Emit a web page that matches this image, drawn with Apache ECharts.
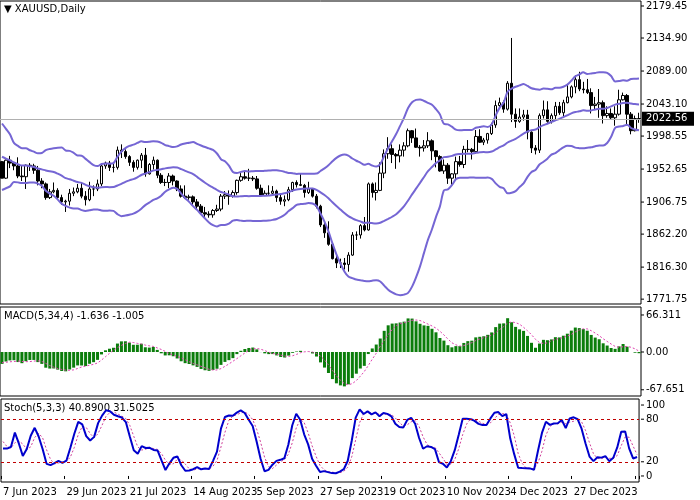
<!DOCTYPE html>
<html>
<head>
<meta charset="utf-8">
<script src="https://cdn.jsdelivr.net/npm/echarts@6/dist/echarts.min.js"></script>
<style>html,body{margin:0;padding:0;background:#fff}#main{width:700px;height:500px}</style>
</head>
<body>
<div id="main"></div>
<script>
// daily bars [open, high, low, close], 1 May 2023 .. 19 Jan 2024 (first 27 rows are warm-up for indicators)
var bars = [
[1990,1993,1976,1983],[1983,2019,1978,2016],[2016,2041,2004,2039],[2039,2081,2033,2050],[2050,2063,2004,2017],
[2017,2026,2012,2021],[2021,2036,2016,2035],[2035,2048,2019,2030],[2030,2040,2010,2015],[2015,2023,2005,2011],
[2011,2022,2006,2017],[2017,2020,1987,1989],[1989,1993,1975,1982],[1982,1984,1952,1958],[1958,1984,1954,1978],
[1978,1980,1963,1971],[1971,1985,1956,1975],[1975,1985,1956,1958],[1958,1962,1937,1941],[1941,1956,1939,1946],
[1946,1950,1936,1943],[1943,1963,1932,1959],[1959,1975,1954,1963],[1963,1983,1953,1978],[1978,1983,1947,1948],
[1948,1965,1939,1961],[1961,1969,1955,1963],
// 7 Jun
[1963,1964,1940,1940],[1940,1966,1939,1965],[1965,1971,1954,1961],[1961,1962,1951,1957],[1957,1969,1940,1943],
[1943,1958,1936,1942],[1942,1959,1925,1958],[1958,1961,1950,1957],[1957,1960,1946,1951],[1951,1957,1930,1936],
[1936,1940,1926,1932],[1932,1934,1910,1913],[1913,1925,1911,1921],[1921,1934,1919,1923],[1923,1926,1910,1913],
[1913,1917,1903,1907],[1907,1910,1893,1908],[1908,1925,1902,1919],
// Jul
[1919,1927,1915,1921],[1921,1932,1919,1926],[1926,1934,1912,1915],[1915,1922,1902,1910],[1910,1935,1908,1925],
[1925,1930,1915,1925],[1925,1938,1922,1932],[1932,1960,1929,1957],[1957,1963,1953,1961],[1961,1964,1950,1955],
[1955,1960,1948,1955],[1955,1984,1952,1979],[1979,1987,1968,1977],[1977,1980,1967,1970],[1970,1972,1957,1962],
[1962,1965,1949,1955],[1955,1966,1952,1965],[1965,1975,1954,1972],[1972,1982,1942,1946],[1946,1961,1945,1959],
[1959,1970,1952,1965],
// Aug
[1965,1966,1940,1944],[1944,1947,1932,1934],[1934,1939,1929,1934],[1934,1947,1926,1943],[1943,1945,1930,1936],
[1936,1937,1922,1925],[1925,1930,1913,1915],[1915,1930,1911,1913],[1913,1917,1910,1914],[1914,1916,1903,1907],
[1907,1911,1896,1901],[1901,1904,1891,1892],[1892,1900,1885,1890],[1890,1894,1885,1889],[1889,1897,1885,1895],
[1895,1903,1893,1897],[1897,1918,1894,1915],[1915,1922,1911,1917],[1917,1923,1903,1915],[1915,1923,1913,1920],
[1920,1938,1917,1937],[1937,1947,1935,1942],[1942,1949,1938,1940],
// Sep
[1940,1953,1936,1940],[1940,1943,1936,1939],[1939,1943,1924,1926],[1926,1931,1915,1916],[1916,1923,1915,1919],
[1919,1930,1916,1919],[1919,1929,1917,1922],[1922,1924,1907,1913],[1913,1917,1903,1908],[1908,1916,1901,1910],
[1910,1928,1908,1924],[1924,1935,1921,1934],[1934,1937,1927,1931],[1931,1947,1929,1930],[1930,1932,1913,1920],
[1920,1935,1918,1925],[1925,1926,1913,1915],[1915,1918,1898,1901],[1901,1903,1872,1875],[1875,1880,1857,1864],
[1864,1880,1846,1848],
// Oct
[1848,1851,1827,1828],[1828,1834,1815,1822],[1822,1828,1815,1822],[1822,1829,1813,1820],[1820,1837,1810,1833],
[1833,1865,1832,1861],[1861,1866,1854,1861],[1861,1876,1856,1874],[1874,1886,1866,1868],[1868,1934,1867,1932],
[1932,1934,1913,1920],[1920,1934,1909,1923],[1923,1962,1922,1947],[1947,1980,1940,1974],[1974,1997,1967,1981],
[1981,1987,1961,1973],[1973,1975,1953,1971],[1971,1987,1962,1979],[1979,1990,1970,1985],[1985,2009,1983,2006],
[2006,2007,1989,1996],[1996,2009,1982,1983],
// Nov
[1983,1986,1970,1982],[1982,1993,1977,1985],[1985,2004,1982,1992],[1992,1994,1965,1978],[1978,1979,1955,1970],
[1970,1972,1949,1950],[1950,1966,1946,1958],[1958,1961,1932,1940],[1940,1947,1931,1946],[1946,1970,1938,1963],
[1963,1971,1956,1959],[1959,1985,1954,1980],[1980,1993,1976,1980],[1980,1982,1966,1977],[1977,2007,1974,1998],
[1998,2008,1989,1990],[1990,1996,1986,1993],[1993,2003,1988,2002],[2002,2017,2000,2014],[2014,2048,2010,2041],
[2041,2052,2037,2045],[2045,2048,2031,2036],
// Dec
[2036,2075,2034,2072],[2072,2135,2018,2029],[2029,2037,2010,2019],[2019,2037,2017,2025],[2025,2035,2020,2028],
[2028,2035,1994,2004],[2004,2005,1975,1982],[1982,1986,1973,1979],[1979,2030,1975,2027],[2027,2048,2023,2035],
[2035,2047,2017,2019],[2019,2030,2016,2027],[2027,2046,2022,2040],[2040,2046,2028,2031],[2031,2049,2025,2045],
[2045,2071,2044,2053],[2053,2069,2051,2067],[2067,2083,2058,2077],[2077,2088,2061,2064],[2064,2074,2058,2063],
// Jan
[2063,2078,2057,2059],[2059,2065,2030,2041],[2041,2053,2035,2043],[2043,2064,2024,2045],[2045,2048,2016,2027],
[2027,2040,2024,2030],[2030,2037,2021,2024],[2024,2040,2013,2029],[2029,2063,2027,2049],[2049,2059,2048,2055],
[2055,2057,2015,2029],[2029,2032,2001,2006],[2006,2027,2005,2023],[2023,2031,2017,2022.56]
];
var warmup = 27;
var holidays = ['2023-12-25', '2024-01-01'];
var priceTicks = [2179.45, 2134.90, 2089.00, 2043.10, 1998.55, 1952.65, 1906.75, 1862.20, 1816.30, 1771.75];
var macdTicks = [66.311, 0, -67.651];
var stochTicks = [100, 80, 20, 0];
var lastPrice = 2022.56;

var months = ['Jan','Feb','Mar','Apr','May','Jun','Jul','Aug','Sep','Oct','Nov','Dec'];
var dates = [];
var d = new Date(Date.UTC(2023, 4, 1));
while (dates.length < bars.length) {
  var wd = d.getUTCDay();
  var iso = d.toISOString().slice(0, 10);
  if (wd !== 0 && wd !== 6 && holidays.indexOf(iso) < 0) {
    dates.push(d.getUTCDate() + ' ' + months[d.getUTCMonth()] + ' ' + d.getUTCFullYear());
  }
  d = new Date(d.getTime() + 86400000);
}

var closes = bars.map(function (b) { return b[3]; });
var highs = bars.map(function (b) { return b[1]; });
var lows = bars.map(function (b) { return b[2]; });

// Bollinger bands (20, 2)
var bbMid = [], bbUp = [], bbLo = [];
for (var i = 0; i < closes.length; i++) {
  if (i < 19) { bbMid.push(null); bbUp.push(null); bbLo.push(null); continue; }
  var s = 0, q = 0;
  for (var j = i - 19; j <= i; j++) s += closes[j];
  var m = s / 20;
  for (var j = i - 19; j <= i; j++) q += (closes[j] - m) * (closes[j] - m);
  var sd = Math.sqrt(q / 20);
  bbMid.push(m); bbUp.push(m + 2 * sd); bbLo.push(m - 2 * sd);
}

// MACD (5, 34, 4), signal as SMA
function ema(arr, n) {
  var k = 2 / (n + 1), out = [], v = arr[0];
  arr.forEach(function (x) { v = x * k + v * (1 - k); out.push(v); });
  return out;
}
var e5 = ema(closes, 5), e34 = ema(closes, 34);
var macd = closes.map(function (c, i) { return e5[i] - e34[i]; });
var macdSig = macd.map(function (v, i) {
  if (i < 3) return null;
  return (macd[i] + macd[i - 1] + macd[i - 2] + macd[i - 3]) / 4;
});

// Stochastic (5, 3, 3)
var stK = [], stD = [];
for (var i = 0; i < closes.length; i++) {
  if (i < 6) { stK.push(null); stD.push(null); continue; }
  var num = 0, den = 0;
  for (var j = i - 2; j <= i; j++) {
    var hh = Math.max.apply(null, highs.slice(j - 4, j + 1));
    var ll = Math.min.apply(null, lows.slice(j - 4, j + 1));
    num += closes[j] - ll; den += hh - ll;
  }
  stK.push(den ? num / den * 100 : 50);
  if (i < 8) { stD.push(null); continue; }
  stD.push((stK[i] + stK[i - 1] + stK[i - 2]) / 3);
}

function view(a) { return a.slice(warmup); }
var cats = view(dates);
var candles = view(bars).map(function (b) { return [b[0], b[3], b[2], b[1]]; });

var chart = echarts.init(document.getElementById('main'));
var font = 'Tahoma, "DejaVu Sans", sans-serif';
var bbColor = '#7566d4';
var gridBase = { left: -1, right: 59, show: true, borderColor: '#000', borderWidth: 1, backgroundColor: '#fff' };

function xAx(idx, showLabel) {
  return {
    type: 'category', gridIndex: idx, data: cats, boundaryGap: true,
    axisLine: { show: false },
    axisTick: { show: showLabel, interval: function (i) { return i % 16 === 0; }, length: 3, lineStyle: { color: '#000' } },
    axisLabel: {
      show: showLabel, interval: function (i) { return i % 16 === 0; },
      align: 'left', color: '#000', fontSize: 10, fontFamily: font, margin: 5
    },
    splitLine: { show: false }
  };
}
function yAx(idx, min, max) {
  return { type: 'value', gridIndex: idx, min: min, max: max, position: 'right',
    axisLine: { show: false }, axisTick: { show: false }, axisLabel: { show: false }, splitLine: { show: false } };
}

chart.setOption({
  animation: false,
  backgroundColor: '#fff',
  grid: [
    Object.assign({ top: 1, height: 303 }, gridBase),
    Object.assign({ top: 307, height: 89 }, gridBase),
    Object.assign({ top: 399, height: 83 }, gridBase)
  ],
  xAxis: [xAx(0, false), xAx(1, false), xAx(2, true)],
  yAxis: [yAx(0, 1765, 2186.4), yAx(1, -78.8, 80.6), yAx(2, -8.5, 108.5)],
  series: [
    {
      type: 'candlestick', xAxisIndex: 0, yAxisIndex: 0, data: candles, barWidth: 3,
      itemStyle: { color: '#fff', color0: '#000', borderColor: '#000', borderColor0: '#000', borderWidth: 1 },
      markLine: {
        silent: true, symbol: 'none', label: { show: false },
        lineStyle: { color: '#b0b0b0', width: 1, type: 'solid' },
        data: [{ yAxis: lastPrice }]
      }
    },
    { type: 'line', xAxisIndex: 0, yAxisIndex: 0, data: view(bbUp), showSymbol: false, smooth: 0.3, lineStyle: { color: bbColor, width: 2 } },
    { type: 'line', xAxisIndex: 0, yAxisIndex: 0, data: view(bbMid), showSymbol: false, smooth: 0.3, lineStyle: { color: bbColor, width: 2 } },
    { type: 'line', xAxisIndex: 0, yAxisIndex: 0, data: view(bbLo), showSymbol: false, smooth: 0.3, lineStyle: { color: bbColor, width: 2 } },
    { type: 'bar', xAxisIndex: 1, yAxisIndex: 1, data: view(macd), barWidth: 3, itemStyle: { color: '#0b7d0b' } },
    { type: 'line', xAxisIndex: 1, yAxisIndex: 1, data: view(macdSig), showSymbol: false, lineStyle: { color: '#e040b0', width: 1, type: [2, 2] } },
    {
      type: 'line', xAxisIndex: 2, yAxisIndex: 2, data: view(stD), showSymbol: false, lineStyle: { color: '#d0409a', width: 1, type: [2, 2] },
      markLine: {
        silent: true, symbol: 'none', label: { show: false },
        lineStyle: { color: '#c00000', width: 1, type: [3, 3] },
        data: [{ yAxis: 80 }, { yAxis: 20 }]
      }
    },
    { type: 'line', xAxisIndex: 2, yAxisIndex: 2, data: view(stK), showSymbol: false, lineStyle: { color: '#0000cc', width: 2 } }
  ]
});

// right-hand scale labels and panel captions, placed through the axes
var g = [];
function rightLabel(yi, v, txt) {
  var y = chart.convertToPixel({ yAxisIndex: yi }, v);
  g.push({ type: 'line', shape: { x1: 641, y1: y, x2: 644, y2: y }, style: { stroke: '#000' } });
  g.push({ type: 'text', x: 646, y: y, style: { text: txt, font: '10px ' + font, fill: '#000', verticalAlign: 'middle' } });
}
priceTicks.forEach(function (v) { rightLabel(0, v, v.toFixed(2)); });
rightLabel(1, macdTicks[0], '66.311');
rightLabel(1, macdTicks[1], '0.00');
rightLabel(1, macdTicks[2], '-67.651');
stochTicks.forEach(function (v) { rightLabel(2, v, String(v)); });
var ly = chart.convertToPixel({ yAxisIndex: 0 }, lastPrice);
g.push({ type: 'rect', shape: { x: 642, y: ly - 7, width: 52, height: 14 }, style: { fill: '#000' } });
g.push({ type: 'text', x: 646, y: ly, style: { text: lastPrice.toFixed(2), font: '10px ' + font, fill: '#fff', verticalAlign: 'middle' } });
g.push({ type: 'text', x: 4, y: 4, style: { text: '\u25BC XAUUSD,Daily', font: '10px ' + font, fill: '#000' } });
g.push({ type: 'text', x: 4, y: 311, style: { text: 'MACD(5,34,4) -1.636 -1.005', font: '10px ' + font, fill: '#000' } });
g.push({ type: 'text', x: 4, y: 403, style: { text: 'Stoch(5,3,3) 40.8900 31.5025', font: '10px ' + font, fill: '#000' } });
chart.setOption({ graphic: g });
</script>
</body>
</html>
